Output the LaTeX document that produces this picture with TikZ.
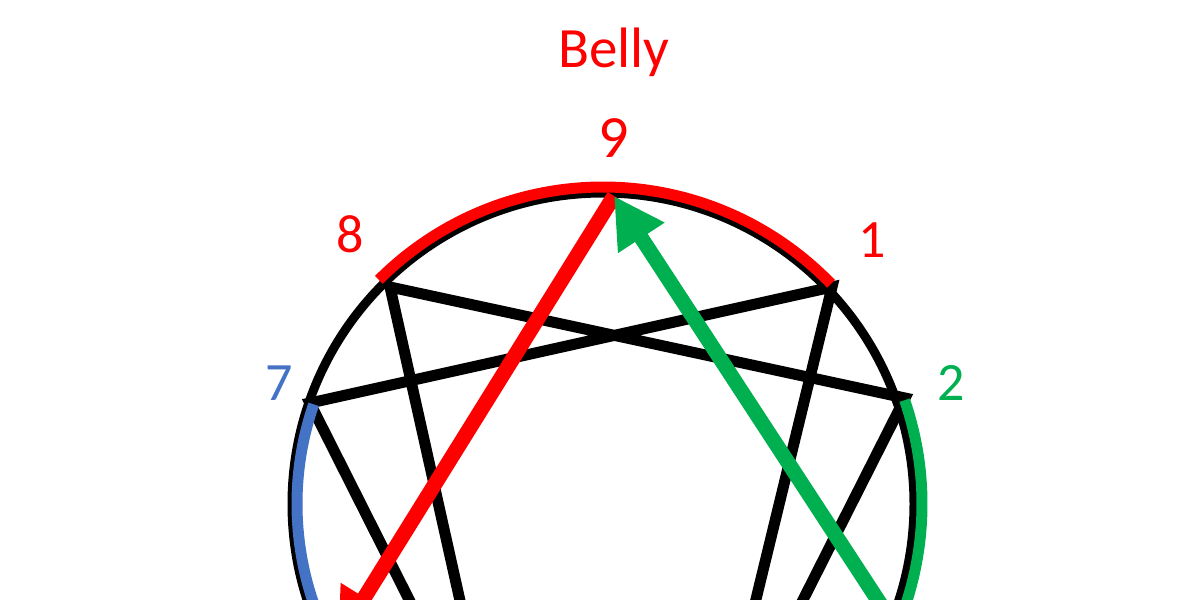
\documentclass[tikz,border=0pt]{standalone}
\usepackage{fontspec}
\setmainfont{Carlito}
\usetikzlibrary{arrows.meta}
\definecolor{bellyred}{RGB}{255,0,0}
\definecolor{headgreen}{RGB}{0,176,80}
\definecolor{heartblue}{RGB}{68,114,196}
\tikzset{
  ring/.style={line width=9pt},
  hexad/.style={line width=11pt,line join=miter},
  band/.style={line width=11pt},
  flow/.style={line width=15pt,-{Triangle[length=50pt,width=52pt]}},
  num/.style={anchor=base,font=\fontsize{54}{54}\selectfont},
}
\begin{document}
\begin{tikzpicture}[x=1pt,y=-1pt]
  \useasboundingbox (0,0) rectangle (1200,600);
  \clip (0,0) rectangle (1200,600);
  % points of the figure (y runs down)
  \coordinate (c) at (603,504);
  \coordinate (p9) at (614,196);
  \coordinate (p1) at (832,287);
  \coordinate (p2) at (905,398);
  \coordinate (p4) at (712,780);
  \coordinate (p5) at (500,780);
  \coordinate (p7) at (310,403);
  \coordinate (p8) at (390,287);
  \coordinate (redend) at (338,640);
  \coordinate (greenstart) at (917,660);

  \draw[ring] (c) circle (311);
  \draw[hexad] (p1) -- (p4) -- (p2) -- (p8) -- (p5) -- (p7) -- cycle;

  % centres
  \draw[band,bellyred] (c) ++(225:317) arc[start angle=225,end angle=316,radius=317];
  \draw[band,headgreen] (c) ++(-19:319) arc[start angle=-19,end angle=40,radius=319];
  \draw[band,heartblue] (c) ++(199:306) arc[start angle=199,end angle=140,radius=306];

  \draw[flow,bellyred] (p9) -- (redend);
  \draw[flow,headgreen] (greenstart) -- (p9);

  \node[num,bellyred,font=\fontsize{57}{57}\selectfont] (belly) at (614,67) {Belly};
  \node[num,bellyred,font=\fontsize{60}{60}\selectfont] (n9) at (614,157) {9};
  \node[num,bellyred] (n8) at (350,252) {8};
  \node[num,bellyred] (n1) at (872,257) {1};
  \node[num,heartblue] (n7) at (279,400) {7};
  \node[num,headgreen] (n2) at (951,400) {2};
\end{tikzpicture}
\end{document}
